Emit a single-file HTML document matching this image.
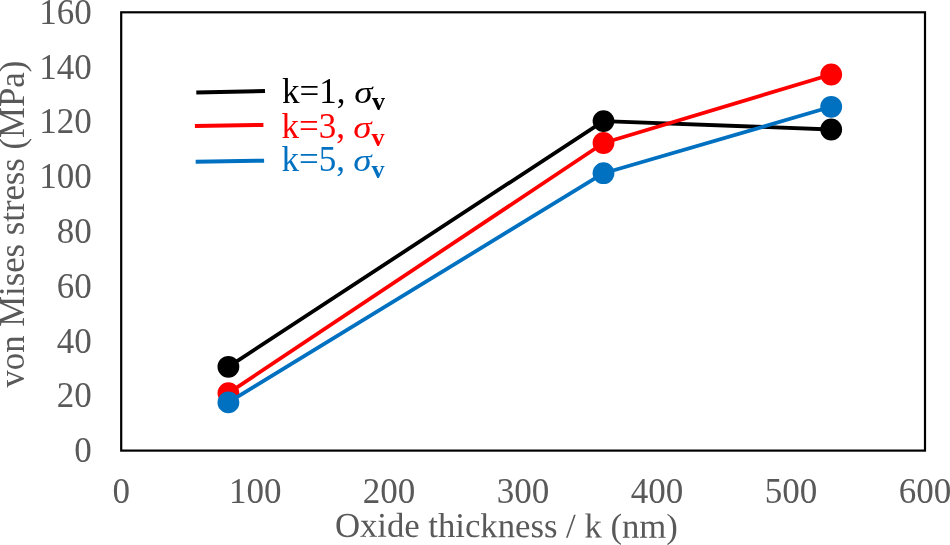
<!DOCTYPE html>
<html lang="en"><head><meta charset="utf-8"><title>von Mises stress vs oxide thickness</title>
<style>html,body{margin:0;padding:0;background:#fff;overflow:hidden}svg{display:block}text{font-family:"Liberation Serif","Times New Roman",serif}</style></head><body>
<svg width="950" height="545" viewBox="0 0 950 545">
<rect x="0" y="0" width="950" height="545" fill="#fff"/>
<rect x="121.2" y="12.3" width="803.8" height="438.3" fill="none" stroke="#000" stroke-width="2.2"/>
<g font-size="35" fill="#595959" text-anchor="end">
<text x="91.8" y="462.1">0</text>
<text x="91.8" y="407.3">20</text>
<text x="91.8" y="352.5">40</text>
<text x="91.8" y="297.7">60</text>
<text x="91.8" y="243.0">80</text>
<text x="91.8" y="188.2">100</text>
<text x="91.8" y="133.4">120</text>
<text x="91.8" y="78.6">140</text>
<text x="91.8" y="23.8">160</text>
</g>
<g font-size="35" fill="#595959" text-anchor="middle">
<text x="121.2" y="502.6">0</text>
<text x="255.2" y="502.6">100</text>
<text x="389.1" y="502.6">200</text>
<text x="523.1" y="502.6">300</text>
<text x="657.1" y="502.6">400</text>
<text x="791.0" y="502.6">500</text>
<text x="925.0" y="502.6">600</text>
</g>
<text x="506.4" y="537.25" transform="rotate(0.19 506.4 537.25)" font-size="34.7" fill="#595959" text-anchor="middle">Oxide thickness / k (nm)</text>
<text transform="translate(24.2 224.15) rotate(-90) scale(1 1.04)" font-size="34.7" fill="#595959" text-anchor="middle">von Mises stress (MPa)</text>
<polyline points="228.4,366.8 603.5,121.1 831.2,129.5" fill="none" stroke="#000000" stroke-width="3.8" stroke-linejoin="round"/>
<circle cx="228.4" cy="366.8" r="10.9" fill="#000000"/>
<circle cx="603.5" cy="121.1" r="10.9" fill="#000000"/>
<circle cx="831.2" cy="129.5" r="10.9" fill="#000000"/>
<polyline points="228.4,393.1 603.5,143.0 831.2,74.5" fill="none" stroke="#FF0000" stroke-width="3.8" stroke-linejoin="round"/>
<circle cx="228.4" cy="393.1" r="10.9" fill="#FF0000"/>
<circle cx="603.5" cy="143.0" r="10.9" fill="#FF0000"/>
<circle cx="831.2" cy="74.5" r="10.9" fill="#FF0000"/>
<polyline points="228.4,402.4 603.5,173.2 831.2,106.8" fill="none" stroke="#0070C0" stroke-width="3.8" stroke-linejoin="round"/>
<circle cx="228.4" cy="402.4" r="10.9" fill="#0070C0"/>
<circle cx="603.5" cy="173.2" r="10.9" fill="#0070C0"/>
<circle cx="831.2" cy="106.8" r="10.9" fill="#0070C0"/>
<line x1="196.3" y1="92.5" x2="265.0" y2="91.1" stroke="#000000" stroke-width="4"/>
<g fill="#000000"><text x="282.0" y="102.8" font-size="35">k=1,</text>
<text transform="translate(354.2 102.8) scale(1.06 0.89)" font-size="35" font-style="italic">σ</text>
<text transform="translate(372.0 109.6)" font-size="26" font-weight="bold">v</text></g>
<line x1="194.9" y1="126.05" x2="263.4" y2="124.9" stroke="#FF0000" stroke-width="4"/>
<g fill="#FF0000"><text x="281.4" y="137.9" font-size="35">k=3,</text>
<text transform="translate(353.2 137.9) scale(1.06 0.89)" font-size="35" font-style="italic">σ</text>
<text transform="translate(371.6 145.8)" font-size="26" font-weight="bold">v</text></g>
<line x1="195.7" y1="161.7" x2="264.1" y2="160.7" stroke="#0070C0" stroke-width="4"/>
<g fill="#0070C0"><text x="281.4" y="170.5" font-size="35">k=5,</text>
<text transform="translate(353.2 170.5) scale(1.06 0.89)" font-size="35" font-style="italic">σ</text>
<text transform="translate(371.6 178.2)" font-size="26" font-weight="bold">v</text></g>
</svg></body></html>
